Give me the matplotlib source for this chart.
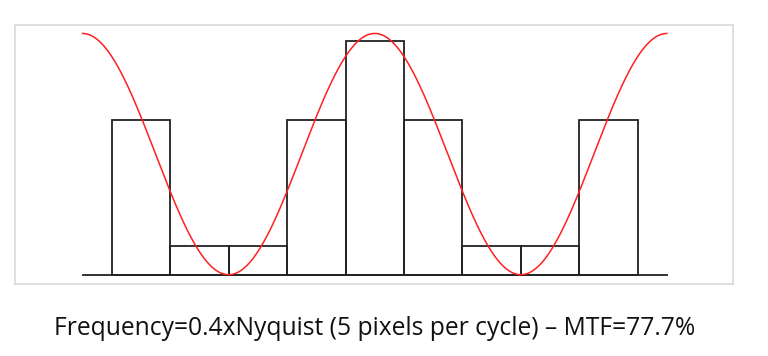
import matplotlib.pyplot as plt
import numpy as np

# pixel positions (in pixels, centred on the peak) and sampled pixel values
pixel_pos = [-4, -3, -2, -1, 0, 1, 2, 3, 4]
pixel_val = [0.64, 0.12, 0.12, 0.64, 0.97, 0.64, 0.12, 0.12, 0.64]

# continuous sine: 5 pixels per cycle, drawn over two cycles
period = 5
x_range = (-5, 5)
caption = "Frequency=0.4xNyquist (5 pixels per cycle) \u2013 MTF=77.7%"


def plot():
    fig = plt.figure(figsize=(7.68, 3.56), dpi=100)
    ax = fig.add_axes([15 / 768, 1 - 283.5 / 356, 718 / 768, 258.5 / 356])

    ax.bar(pixel_pos, pixel_val, width=1.0, fill=False,
           edgecolor="#222222", linewidth=1.3)
    ax.plot(x_range, [0, 0], color="#222222", linewidth=1.3)

    x = np.linspace(x_range[0], x_range[1], 500)
    y = 0.5 + 0.5 * np.cos(2 * np.pi * x / period)
    ax.plot(x, y, color="#ff2020", linewidth=1.1)

    ax.set_xlim(-6.155, 6.13)
    ax.set_ylim(-0.0365, 1.035)
    ax.set_xticks([])
    ax.set_yticks([])
    for s in ax.spines.values():
        s.set_color("#d9d9d9")
        s.set_linewidth(1.2)

    fig.text(374.5 / 768, 1 - 335 / 356, caption, ha="center", va="baseline",
             fontsize=17.7, family="Open Sans", color="#111111")

    plt.savefig("out.png", dpi=100)


if __name__ == "__main__":
    plot()
